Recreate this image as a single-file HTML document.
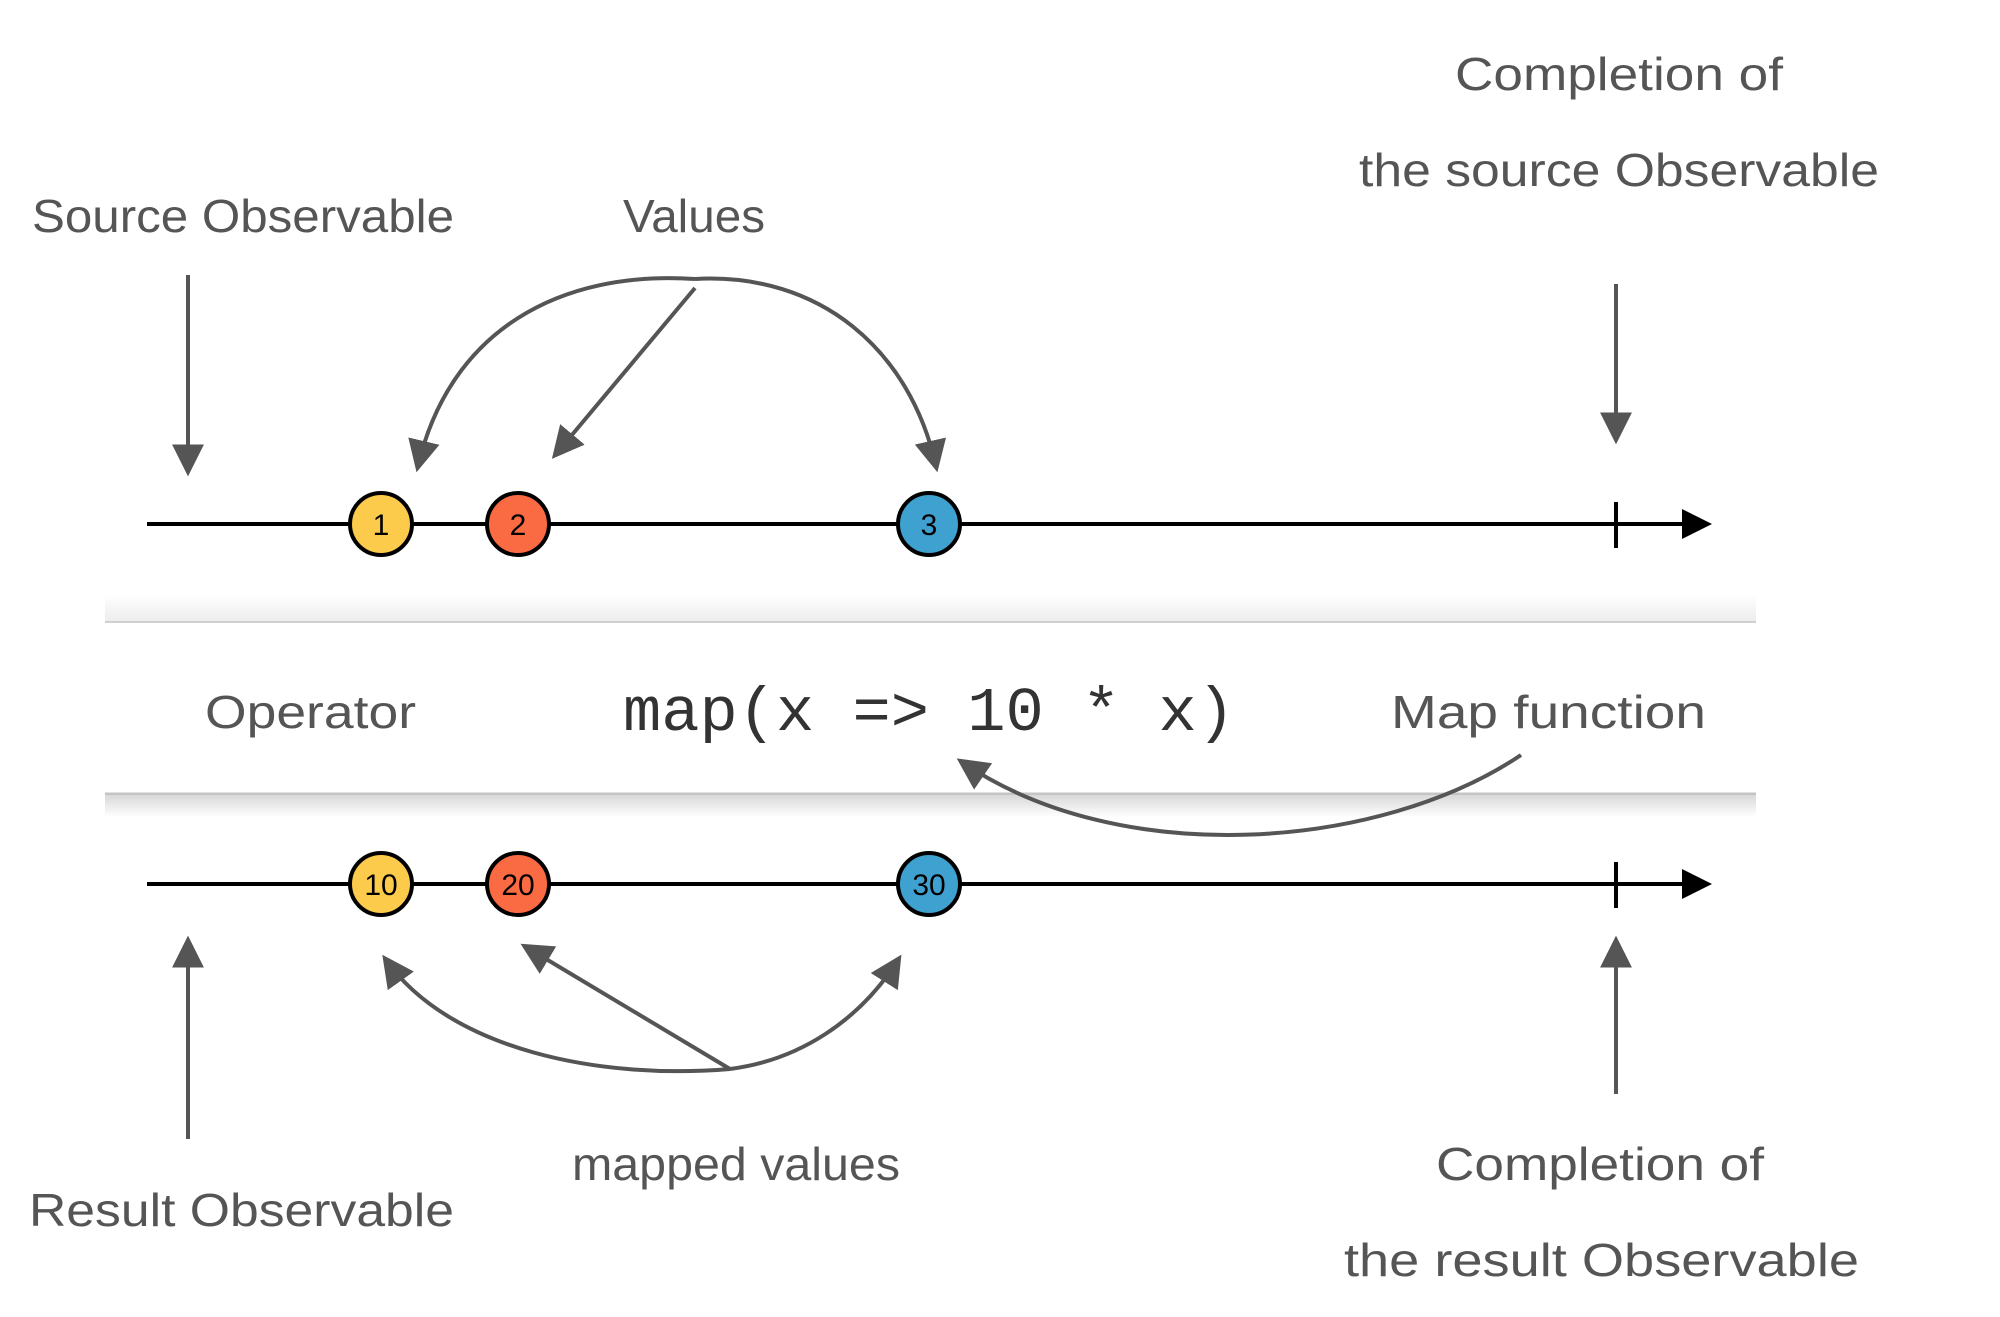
<!DOCTYPE html>
<html><head><meta charset="utf-8"><style>
html,body{margin:0;padding:0;background:#fff;}
svg{display:block}
.h{font-family:"Liberation Sans",sans-serif;fill:#555;font-size:46px;}
</style></head><body>
<svg width="2000" height="1317" viewBox="0 0 2000 1317" xmlns="http://www.w3.org/2000/svg">
<defs>
<marker id="ah" viewBox="0 0 10 10" refX="8" refY="5" markerWidth="8" markerHeight="8" orient="auto" markerUnits="strokeWidth">
<path d="M0,0 L10,5 L0,10 z" fill="#555"/></marker>
<linearGradient id="gt" x1="0" y1="0" x2="0" y2="1"><stop offset="0" stop-color="#fff"/><stop offset="1" stop-color="#ececec"/></linearGradient>
<linearGradient id="gb" x1="0" y1="0" x2="0" y2="1"><stop offset="0" stop-color="#d8d8d8"/><stop offset="1" stop-color="#fff"/></linearGradient>
</defs>
<rect x="105" y="595" width="1651" height="27" fill="url(#gt)"/>
<line x1="105" y1="622" x2="1756" y2="622" stroke="#d0d0d0" stroke-width="2"/>
<line x1="105" y1="794" x2="1756" y2="794" stroke="#c4c4c4" stroke-width="3"/>
<rect x="105" y="795" width="1651" height="22" fill="url(#gb)"/>
<g stroke="#000" stroke-width="4">
<line x1="147" y1="524" x2="1690" y2="524"/>
<line x1="1616" y1="502" x2="1616" y2="548"/>
<line x1="147" y1="884" x2="1690" y2="884"/>
<line x1="1616" y1="862" x2="1616" y2="908"/>
</g>
<path d="M1682,509 L1712,524 L1682,539 z" fill="#000"/>
<path d="M1682,869 L1712,884 L1682,899 z" fill="#000"/>
<g stroke="#000" stroke-width="4">
<circle cx="381" cy="524" r="31" fill="#fdcb4b"/>
<circle cx="518" cy="524" r="31" fill="#fb6b43"/>
<circle cx="929" cy="524" r="31" fill="#3fa1d0"/>
<circle cx="381" cy="884" r="31" fill="#fdcb4b"/>
<circle cx="518" cy="884" r="31" fill="#fb6b43"/>
<circle cx="929" cy="884" r="31" fill="#3fa1d0"/>
</g>
<g font-family="Liberation Sans,sans-serif" font-size="30" fill="#000" text-anchor="middle">
<text x="381" y="535">1</text><text x="518" y="535">2</text><text x="929" y="535">3</text>
<text x="381" y="895">10</text><text x="518" y="895">20</text><text x="929" y="895">30</text>
</g>
<g stroke="#555" stroke-width="4" fill="none" marker-end="url(#ah)">
<path d="M188,275 L188,470"/>
<path d="M1616,284 L1616,438"/>
<path d="M695,279 C560,270 450,330 418,466"/>
<path d="M695,279 C820,272 910,350 936,466"/>
<path d="M695,288 L556,454"/>
<path d="M1521,755 C1380,850 1120,870 962,762"/>
<path d="M730,1069 C600,1080 450,1050 386,960"/>
<path d="M730,1069 C800,1060 860,1020 898,960"/>
<path d="M730,1069 L526,947"/>
<path d="M188,1139 L188,942"/>
<path d="M1616,1094 L1616,942"/>
</g>
<text class="h" x="32" y="232" textLength="422" lengthAdjust="spacingAndGlyphs">Source Observable</text>
<text class="h" x="623" y="232" textLength="142" lengthAdjust="spacingAndGlyphs">Values</text>
<text class="h" x="1455" y="90" textLength="328" lengthAdjust="spacingAndGlyphs">Completion of</text>
<text class="h" x="1359" y="186" textLength="520" lengthAdjust="spacingAndGlyphs">the source Observable</text>
<text class="h" x="205" y="728" textLength="211" lengthAdjust="spacingAndGlyphs">Operator</text>
<text x="623" y="730" font-family="Liberation Mono,monospace" font-size="62" fill="#333" textLength="612" lengthAdjust="spacingAndGlyphs">map(x =&gt; 10 * x)</text>
<text class="h" x="1391" y="728" textLength="315" lengthAdjust="spacingAndGlyphs">Map function</text>
<text class="h" x="572" y="1180" textLength="328" lengthAdjust="spacingAndGlyphs">mapped values</text>
<text class="h" x="29" y="1226" textLength="425" lengthAdjust="spacingAndGlyphs">Result Observable</text>
<text class="h" x="1436" y="1180" textLength="328" lengthAdjust="spacingAndGlyphs">Completion of</text>
<text class="h" x="1344" y="1276" textLength="515" lengthAdjust="spacingAndGlyphs">the result Observable</text>
</svg>
</body></html>
